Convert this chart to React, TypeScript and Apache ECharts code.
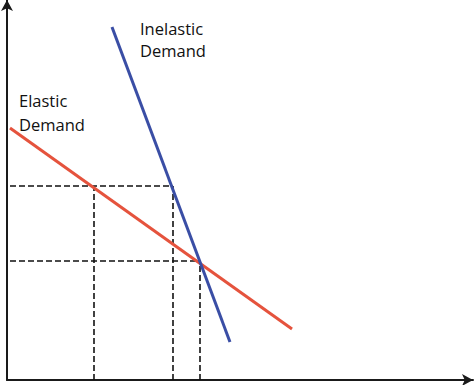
import React, { useEffect, useRef } from "react";
import * as echarts from "echarts";

// Demand curves (quantity, price) in arbitrary units
const inelasticDemand: [number, number][] = [
  [105, 353],
  [223, 38],
];
const elasticDemand: [number, number][] = [
  [3, 252],
  [285, 51],
];
// Price levels and the quantities
const priceHigh = 194;
const priceLow = 119;
const qElasticHigh = 87;
const qInelasticHigh = 166;
const qLow = 193;

const dashedLines: [number, number][][] = [
  [[3, priceHigh], [qInelasticHigh, priceHigh]],
  [[qElasticHigh, 0], [qElasticHigh, priceHigh]],
  [[qInelasticHigh, 0], [qInelasticHigh, priceHigh]],
  [[3, priceLow], [qLow, priceLow]],
  [[qLow, 0], [qLow, priceLow]],
];

export default function App() {
  const ref = useRef<HTMLDivElement>(null);
  useEffect(() => {
    if (!ref.current) return;
    const chart = echarts.init(ref.current, null, { renderer: "svg" });
    const dashSeries = dashedLines.map((d) => ({
      type: "line",
      data: d,
      symbol: "none",
      silent: true,
      lineStyle: { color: "#111", width: 1.6, type: [6, 3] },
      z: 1,
    }));
    chart.setOption({
      animation: false,
      grid: { left: 7, right: 1, top: 0, bottom: 5 },
      xAxis: {
        type: "value",
        min: 0,
        max: 466,
        axisLine: {
          show: true,
          lineStyle: { color: "#1a1a1a", width: 2 },
          symbol: ["none", "arrow"],
          symbolSize: [9, 11],
        },
        axisTick: { show: false },
        axisLabel: { show: false },
        splitLine: { show: false },
      },
      yAxis: {
        type: "value",
        min: 0,
        max: 380,
        axisLine: {
          show: true,
          onZero: false,
          lineStyle: { color: "#1a1a1a", width: 2 },
          symbol: ["none", "arrow"],
          symbolSize: [9, 11],
        },
        axisTick: { show: false },
        axisLabel: { show: false },
        splitLine: { show: false },
      },
      series: [
        ...dashSeries,
        {
          type: "line",
          data: elasticDemand,
          symbol: "none",
          lineStyle: { color: "#e5533d", width: 3 },
          z: 3,
        },
        {
          type: "line",
          data: inelasticDemand,
          symbol: "none",
          lineStyle: { color: "#3a4ea5", width: 3 },
          z: 4,
        },
      ],
      graphic: [
        {
          type: "text",
          left: 19,
          top: 88,
          style: {
            text: "Elastic\nDemand",
            font: "16.5px 'Open Sans', sans-serif",
            fill: "#111",
            lineHeight: 24,
          },
        },
        {
          type: "text",
          left: 140,
          top: 17,
          style: {
            text: "Inelastic\nDemand",
            font: "16.5px 'Open Sans', sans-serif",
            fill: "#111",
            lineHeight: 22,
          },
        },
      ],
    });
    return () => chart.dispose();
  }, []);
  return <div ref={ref} style={{ width: 474, height: 385, position: "absolute", left: 0, top: 0 }} />;
}
